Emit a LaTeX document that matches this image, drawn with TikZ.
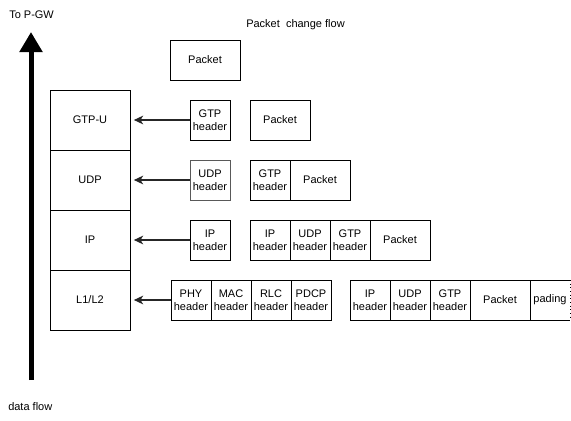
\documentclass[tikz,border=0pt]{standalone}
\usepackage{fontspec}
\setmainfont{Liberation Sans}
\usetikzlibrary{arrows.meta}
\begin{document}
\begin{tikzpicture}[x=0.75pt, y=-0.75pt,
    every node/.style={font=\fontsize{8.25}{10}\selectfont},
    layer/.style={draw, line width=0.75pt, minimum width=60pt, minimum height=45pt, inner sep=0pt},
    cell/.style={draw, line width=0.75pt, minimum width=30pt, minimum height=30pt, inner sep=0pt, align=center},
    wide/.style={cell, minimum width=45pt},
    push/.style={line width=1.1pt, black!85, -{Stealth[length=7pt, width=6.5pt, inset=2pt]}, shorten >=2.5pt}]
  \useasboundingbox (0,0) rectangle (571,421);

  % titles
  \node[anchor=west, inner sep=0pt] (topgw) at (9,15) {To P-GW};
  \node[anchor=west, inner sep=0pt] (dflow) at (8,407) {data flow};
  \node[anchor=west, inner sep=0pt] (title) at (246,25) {Packet\ \ change flow};

  % big arrow
  \coordinate (abot) at (31,380);
  \coordinate (atop) at (31,32);
  \draw[line width=3.75pt, -{Triangle[width=16.5pt, length=15pt]}] (abot) -- (atop);

  % protocol stack
  \node[layer] (gtpu) at (90,120) {GTP-U};
  \node[layer] (udp)  at (90,180) {UDP};
  \node[layer] (ip)   at (90,240) {IP};
  \node[layer] (lone) at (90,300) {L1/L2};

  % top packet
  \node[wide, minimum width=52.5pt] (p0) at (205,60) {Packet};

  % GTP row
  \node[cell] (hgtp) at (210,120) {GTP\\header};
  \node[wide] (p1) at (280,120) {Packet};
  \draw[push] (hgtp) -- (gtpu);

  % UDP row
  \node[cell, draw=black!65] (hudp) at (210,180) {UDP\\header};
  \node[cell] (g2) at (270,180) {GTP\\header};
  \node[wide] (p2) at (320,180) {Packet};
  \draw[push] (hudp) -- (udp);

  % IP row
  \node[cell] (hip) at (210,240) {IP\\header};
  \node[cell] (i3) at (270,240) {IP\\header};
  \node[cell] (u3) at (310,240) {UDP\\header};
  \node[cell] (g3) at (350,240) {GTP\\header};
  \node[wide] (p3) at (400,240) {Packet};
  \draw[push] (hip) -- (ip);

  % L1/L2 row
  \node[cell] (hphy)  at (191,300) {PHY\\header};
  \node[cell] (hmac)  at (231,300) {MAC\\header};
  \node[cell] (hrlc)  at (271,300) {RLC\\header};
  \node[cell] (hpdcp) at (311,300) {PDCP\\header};
  \node[cell] (i4) at (370,300) {IP\\header};
  \node[cell] (u4) at (410,300) {UDP\\header};
  \node[cell] (g4) at (450,300) {GTP\\header};
  \node[wide] (p4) at (500,300) {Packet};
  \node[cell, draw=none, outer sep=0pt] (pad) at (550,300) {pading};
  \draw[line width=0.75pt] (pad.north west) -- (pad.north east);
  \draw[line width=0.75pt] (pad.south west) -- (pad.south east);
  \draw[line width=0.75pt, dotted] (pad.north east) -- (pad.south east);
  \draw[push] (hphy) -- (lone);
\end{tikzpicture}
\end{document}
